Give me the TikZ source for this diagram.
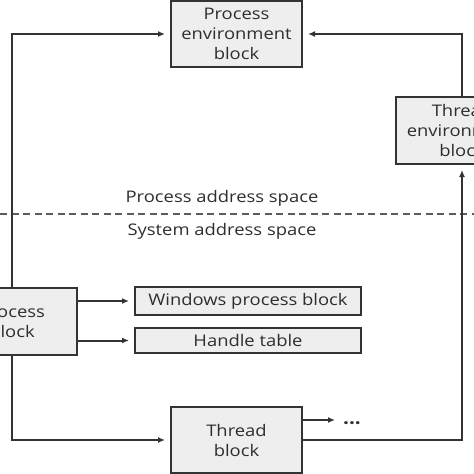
\documentclass[tikz,border=0pt]{standalone}
\usepackage{fontspec}
\setmainfont{Open Sans}[FakeStretch=1.15]
\usetikzlibrary{arrows.meta}
\definecolor{edge}{HTML}{333333}
\definecolor{boxfill}{HTML}{EEEEEE}
\definecolor{txt}{HTML}{2E2E2E}
\begin{document}
\begin{tikzpicture}[x=1pt,y=-1pt,
  blk/.style={draw=edge, fill=boxfill, line width=2pt, inner sep=0pt, align=center,
    text=txt, font=\fontsize{16}{20}\selectfont},
  conn/.style={draw=edge, line width=2pt, -{Latex[length=7pt,width=6pt]}, shorten >=5pt},
  lbl/.style={text=txt, font=\fontsize{16}{20}\selectfont, inner sep=0pt}]
\useasboundingbox (0,0) rectangle (474,474);
\node[blk, minimum width=131pt, minimum height=66pt] (peb) at (236.5,34) {Process\\environment\\block};
\node[blk, minimum width=132pt, minimum height=67pt] (teb) at (462,130.5) {Thread\\environment\\block};
\node[blk, minimum width=130pt, minimum height=67pt] (eproc) at (12,321.5) {Process\\block};
\node[blk, minimum width=226pt, minimum height=28pt] (wpb) at (248,301) {Windows process block};
\node[blk, minimum width=226pt, minimum height=25pt] (ht) at (248,340.5) {Handle table};
\node[blk, minimum width=131pt, minimum height=66pt] (thr) at (236.5,440) {Thread\\block};
\coordinate (dotsin) at (340,420);
\node[lbl, font=\fontsize{18}{20}\selectfont\bfseries, anchor=base] (dots) at (352,429) {···};
\node[lbl] (pas) at (222,198) {Process address space};
\node[lbl] (sas) at (222,231) {System address space};
\coordinate (dl) at (0,214);
\coordinate (dr) at (474,214);
\draw[draw=edge!80, line width=2pt, dash pattern=on 7pt off 4.5pt] (dl) -- (dr);
\draw[conn] (eproc.north) |- (peb.west);
\draw[conn] (teb.north) |- (peb.east);
\draw[conn] (eproc.east |- wpb.west) -- (wpb.west);
\draw[conn] (eproc.east |- ht.west) -- (ht.west);
\draw[conn] (eproc.south) |- (thr.west);
\draw[conn] (thr.east) -| (teb.south);
\draw[conn] (thr.east |- dotsin) -- (dotsin);
\end{tikzpicture}
\end{document}
